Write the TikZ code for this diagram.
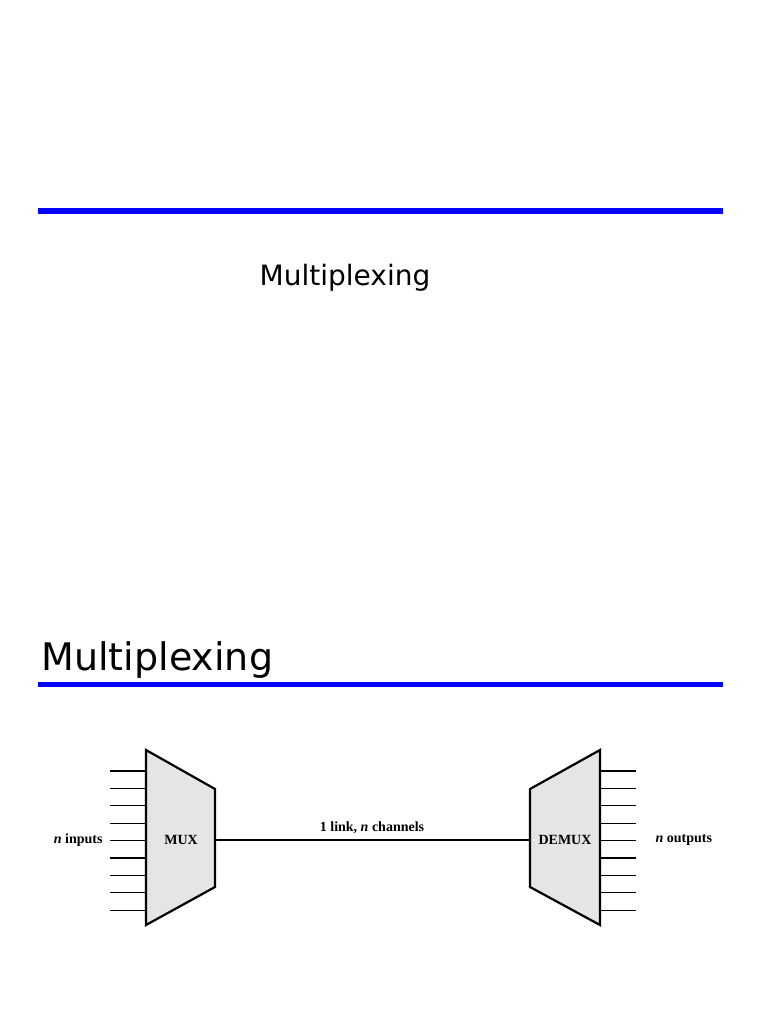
\documentclass[tikz,border=0pt]{standalone}
\usepackage{fontspec}
\setmainfont{Liberation Serif}
\newfontfamily\djv{DejaVu Sans}
\begin{document}
\begin{tikzpicture}[x=1pt,y=-1pt,
  blk/.style={draw,line width=2.2pt,fill=gray!20,line join=miter},
  lbl/.style={font=\bfseries\fontsize{14}{16}\selectfont},
  wire/.style={line width=1.3pt}]
\useasboundingbox[fill=white] (0,0) rectangle (768,1024);
\fill[blue] (38,208) rectangle (723,214);
\fill[blue] (38,681.5) rectangle (723,686.5);
\node[font=\djv\fontsize{28}{32}\selectfont] (t1) at (345,278) {Multiplexing};
\node[font=\djv\fontsize{38}{44}\selectfont,anchor=west] (t2) at (38,660) {Multiplexing};
\draw[blk] (146,750) -- (215,789) -- (215,887) -- (146,925) -- cycle;
\draw[blk] (600,750) -- (530,789) -- (530,887) -- (600,925) -- cycle;
\node[lbl] (mux) at (181,840) {MUX};
\node[lbl] (dmx) at (565,840) {DEMUX};
\coordinate (mr) at (215,840);
\coordinate (dl) at (530,840);
\draw[line width=1.4pt] (mr) -- (dl);
\node[lbl,anchor=south] (lk) at (372,837) {1 link, \textit{n} channels};
\foreach \i in {0,...,8}{
  \coordinate (a\i) at (110,771+17.4*\i);
  \coordinate (b\i) at (146,771+17.4*\i);
  \coordinate (c\i) at (600,771+17.4*\i);
  \coordinate (d\i) at (636,771+17.4*\i);
  \draw[wire] (a\i) -- (b\i);
  \draw[wire] (c\i) -- (d\i);
}
\node[lbl,anchor=east] (in) at (106,840) {\textit{n} inputs};
\node[lbl,anchor=west] (out) at (652,840) {\textit{n} outputs};
\end{tikzpicture}
\end{document}
